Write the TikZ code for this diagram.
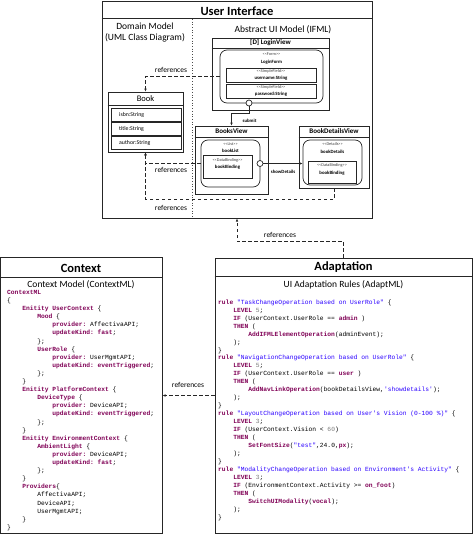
\documentclass[tikz,border=0pt]{standalone}
\usepackage{fontspec}
\setmainfont{Carlito}
\setmonofont{Liberation Mono}
\usetikzlibrary{arrows.meta}
\definecolor{kwcol}{RGB}{127,0,85}
\definecolor{strcol}{RGB}{42,0,255}
\definecolor{numcol}{RGB}{125,125,125}
\newcommand{\kw}[1]{\textcolor{kwcol}{\bfseries #1}}
\newcommand{\cstr}[1]{\textcolor{strcol}{#1}}
\newcommand{\cnum}[1]{\textcolor{numcol}{#1}}
\newcommand{\ind}{\hspace*{2.4em}}
\newcommand{\stereotype}[1]{<\kern0pt<#1>\kern0pt>}
\tikzset{box/.style={draw=black!85, line width=0.7pt, inner sep=0pt},
  bigbox/.style={draw=black!85, line width=1pt, inner sep=0pt},
  rbox/.style={box, rounded corners=7pt},
  port/.style={circle, draw=black!85, line width=0.7pt, fill=white, minimum size=6pt, inner sep=0pt},
  bigtitle/.style={font=\fontsize{12.5}{14}\selectfont\bfseries},
  subtitle/.style={font=\fontsize{9.5}{11}\selectfont, align=center},
  viewtitle/.style={font=\fontsize{7}{8}\selectfont\bfseries},
  stereo/.style={font=\fontsize{4.3}{5}\selectfont, text=black!75, inner sep=0pt},
  elname/.style={font=\fontsize{4.8}{5}\selectfont\bfseries, inner sep=0pt},
  attr/.style={font=\fontsize{5.8}{7}\selectfont, inner sep=0pt},
  reflabel/.style={font=\fontsize{7.5}{9}\selectfont},
  code/.style={font=\ttfamily\fontsize{6.28}{8.1}\selectfont, align=left, inner sep=0pt},
  conn/.style={draw=black!85, line width=0.7pt, -{Latex[length=3pt,width=2.6pt]}},
  ref/.style={conn, dash pattern=on 3.5pt off 2.5pt, line width=0.8pt}}

\begin{document}
\begin{tikzpicture}[x=1pt,y=-1pt]
  \useasboundingbox (0,0) rectangle (474,535);
  % user interface
  \node[bigbox, minimum width=270pt, minimum height=216pt] (ui) at (237,110) {};
  \node[bigtitle] (uititle) at (237,11) {User Interface};
  \draw[bigbox] (ui.west |- 0,19) -- (ui.east |- 0,19);
  \node[subtitle] (dm) at (145,32.5) {Domain Model\\(UML Class Diagram)};
  \node[subtitle] (ifml) at (283,30) {Abstract UI Model (IFML)};
  \draw[dotted, black!70, line width=0.7pt] (192,19) -- (192,218);

  \node[box, minimum width=75pt, minimum height=60pt] (book) at (145.5,122) {};
  \node[font=\fontsize{8.5}{10}\selectfont] at (145.5,98.5) {Book};
  \draw[box] (book.west |- 0,105) -- (book.east |- 0,105);
  \foreach \n/\y in {isbn/115, title/129, author/143} {
    \node[box, minimum width=70pt, minimum height=12.5pt] (\n) at (146,\y) {};
    \node[attr, anchor=west] at (119,\y) {\n:String};
  }

  \node[box, minimum width=117pt, minimum height=72pt] (loginview) at (270.5,74) {};
  \node[viewtitle] at (270.5,43) {[D] LoginView};
  \draw[box] (loginview.west |- 0,48) -- (loginview.east |- 0,48);
  \node[rbox, minimum width=103pt, minimum height=53pt] (loginform) at (271.5,76.5) {};
  \node[stereo] at (271.5,54.5) {\stereotype{Form}};
  \node[elname] at (271.5,62) {LoginForm};
  \node[box, minimum width=90pt, minimum height=14pt] (username) at (271,75) {};
  \node[stereo] at (271,71.5) {\stereotype{SimpleField}};
  \node[elname] at (271,78.5) {username:String};
  \node[box, minimum width=90pt, minimum height=14pt] (password) at (271,91) {};
  \node[stereo] at (271,87.5) {\stereotype{SimpleField}};
  \node[elname] at (271,94.5) {password:String};
  \node[port] (loginport) at (249,103) {};

  \node[box, minimum width=73pt, minimum height=68pt] (booksview) at (231.5,160) {};
  \node[viewtitle] at (231.5,131.5) {BooksView};
  \draw[box] (booksview.west |- 0,137) -- (booksview.east |- 0,137);
  \node[rbox, minimum width=59pt, minimum height=47pt] (booklist) at (230.5,163.5) {};
  \node[stereo] at (230.5,144) {\stereotype{List}};
  \node[elname] at (230.5,151) {bookList};
  \node[box, minimum width=49pt, minimum height=23pt] (listbinding) at (227.5,166.5) {};
  \node[stereo] at (227.5,160) {\stereotype{DataBinding}};
  \node[elname] at (227.5,167.5) {bookBinding};
  \node[port] (listport) at (260,163.5) {};

  \node[box, minimum width=70pt, minimum height=62pt] (detailsview) at (334,157) {};
  \node[viewtitle] at (334,131.5) {BookDetailsView};
  \draw[box] (detailsview.west |- 0,137) -- (detailsview.east |- 0,137);
  \node[rbox, minimum width=59pt, minimum height=45pt] (bookdetails) at (332.5,162.5) {};
  \node[stereo] at (332.5,144) {\stereotype{Details}};
  \node[elname] at (332.5,152) {bookDetails};
  \node[box, minimum width=48pt, minimum height=22pt] (detailsbinding) at (332,172) {};
  \node[stereo] at (332,165.5) {\stereotype{DataBinding}};
  \node[elname] at (332,173) {bookBinding};

  \draw[conn] (loginport.south) -- ++(0,7) -| (booksview.north);
  \node[elname] at (249.5,121) {submit};
  \draw[conn] (listport.east) -- (listport.east -| bookdetails.west);
  \node[elname] at (283,172) {showDetails};

  \draw[ref] (loginform.west) -| (book.north);
  \node[reflabel] at (171,70) {references};
  \draw[ref] (booklist.west) -| (book.south);
  \node[reflabel] at (171,170) {references};
  \draw[ref] (detailsview.south) -- ++(0,11) -| (book.south);
  \node[reflabel] at (171,208) {references};

  % context
  \node[bigbox, minimum width=162pt, minimum height=276pt] (context) at (81,395) {};
  \node[bigtitle] at (81,268) {Context};
  \draw[bigbox] (context.west |- 0,277) -- (context.east |- 0,277);
  \node[subtitle] at (81,285) {Context Model (ContextML)};
  \node[code, anchor=north west] (ctxcode) at (7,290) {%
\kw{ContextML}\\
\{\\
\ind\kw{Enitity UserContext} \{\\
\ind\ind\kw{Mood} \{\\
\ind\ind\ind\kw{provider:} AffectivaAPI;\\
\ind\ind\ind\kw{updateKind: fast};\\
\ind\ind\};\\
\ind\ind\kw{UserRole} \{\\
\ind\ind\ind\kw{provider:} UserMgmtAPI;\\
\ind\ind\ind\kw{updateKind: eventTriggered};\\
\ind\ind\};\\
\ind\}\\
\ind\kw{Enitity PlatformContext} \{\\
\ind\ind\kw{DeviceType} \{\\
\ind\ind\ind\kw{provider:} DeviceAPI;\\
\ind\ind\ind\kw{updateKind: eventTriggered};\\
\ind\ind\};\\
\ind\}\\
\ind\kw{Enitity EnvironmentContext} \{\\
\ind\ind\kw{AmbientLight} \{\\
\ind\ind\ind\kw{provider:} DeviceAPI;\\
\ind\ind\ind\kw{updateKind: fast};\\
\ind\ind\};\\
\ind\}\\
\ind\kw{Providers}\{\\
\ind\ind AffectivaAPI;\\
\ind\ind DeviceAPI;\\
\ind\ind UserMgmtAPI;\\
\ind\}\\
\}};

  % adaptation
  \node[bigbox, minimum width=257pt, minimum height=275pt] (adapt) at (343.5,395.5) {};
  \node[bigtitle] at (343.5,267) {Adaptation};
  \draw[bigbox] (adapt.west |- 0,276) -- (adapt.east |- 0,276);
  \node[subtitle] at (343.5,285) {UI Adaptation Rules (AdaptML)};
  \node[code, anchor=north west, font=\ttfamily\fontsize{6.28}{7.96}\selectfont] (adaptcode) at (218,299.5) {%
\kw{rule} \cstr{"TaskChangeOperation based on UserRole"} \{\\
\ind\kw{LEVEL} \cnum{5};\\
\ind\kw{IF} (UserContext.UserRole == \kw{admin} )\\
\ind\kw{THEN} (\\
\ind\ind\kw{AddIFMLElementOperation}(adminEvent);\\
\ind);\\
\}\\
\kw{rule} \cstr{"NavigationChangeOperation based on UserRole"} \{\\
\ind\kw{LEVEL} \cnum{5};\\
\ind\kw{IF} (UserContext.UserRole == \kw{user} )\\
\ind\kw{THEN} (\\
\ind\ind\kw{AddNavLinkOperation}(bookDetailsView,\cstr{'showdetails'});\\
\ind);\\
\}\\
\kw{rule} \cstr{"LayoutChangeOperation based on User's Vision (0-100 \%)"} \{\\
\ind\kw{LEVEL} \cnum{3};\\
\ind\kw{IF} (UserContext.Vision < \cnum{60})\\
\ind\kw{THEN} (\\
\ind\ind\kw{SetFontSize}(\cstr{"test"},24.0,\kw{px});\\
\ind);\\
\}\\
\kw{rule} \cstr{"ModalityChangeOperation based on Environment's Activity"} \{\\
\ind\kw{LEVEL} \cnum{3};\\
\ind\kw{IF} (EnvironmentContext.Activity >= \kw{on\_foot})\\
\ind\kw{THEN} (\\
\ind\ind\kw{SwitchUIModality}(\kw{vocal});\\
\ind);\\
\}};

  \draw[ref] (adapt.north) -- ++(0,-16) -| (ui.south);
  \node[reflabel] at (280,235) {references};
  \draw[ref] (adapt.west) -- (adapt.west -| context.east);
  \node[reflabel] at (188,385) {references};
\end{tikzpicture}
\end{document}
